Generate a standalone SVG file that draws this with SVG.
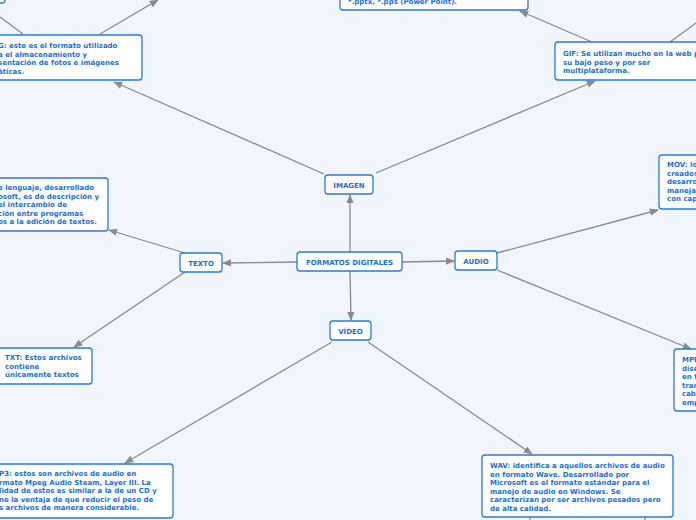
<svg xmlns="http://www.w3.org/2000/svg" width="696" height="520" viewBox="0 0 696 520">
<style>
.n rect{fill:#fff;stroke:#2a7ad8;stroke-width:1.3}
text{font-family:"DejaVu Sans",sans-serif;font-weight:bold;font-size:7px;fill:#1a6fd3}
.c line{stroke:#8a8a8a;stroke-width:1.3}
</style>
<defs><marker id="a" viewBox="0 0 10 10" refX="9" refY="5" markerWidth="7" markerHeight="7" orient="auto"><path d="M0,1L10,5L0,9z" fill="#8a8a8a"/></marker></defs>
<rect width="696" height="520" fill="#f1f5fd"/>
<g class="c">
<line x1="350" y1="252" x2="350" y2="195" marker-end="url(#a)"/>
<line x1="297" y1="262" x2="223" y2="263" marker-end="url(#a)"/>
<line x1="402" y1="262" x2="454" y2="261" marker-end="url(#a)"/>
<line x1="350" y1="271" x2="351" y2="320" marker-end="url(#a)"/>
<line x1="324" y1="174" x2="114" y2="82" marker-end="url(#a)"/>
<line x1="376" y1="173" x2="595" y2="81" marker-end="url(#a)"/>
<line x1="23" y1="34" x2="0" y2="17"/>
<line x1="100" y1="34" x2="158" y2="0" marker-end="url(#a)"/>
<line x1="592" y1="42" x2="520" y2="11" marker-end="url(#a)"/>
<line x1="670" y1="42" x2="700" y2="20"/>
<line x1="185" y1="253" x2="109" y2="230" marker-end="url(#a)"/>
<line x1="185" y1="272" x2="74" y2="347" marker-end="url(#a)"/>
<line x1="497" y1="253" x2="658" y2="210" marker-end="url(#a)"/>
<line x1="497" y1="270" x2="691" y2="349" marker-end="url(#a)"/>
<line x1="332" y1="342" x2="125" y2="463" marker-end="url(#a)"/>
<line x1="368" y1="342" x2="532" y2="454" marker-end="url(#a)"/>
<line x1="530" y1="517" x2="530" y2="520"/>
<line x1="645" y1="517" x2="645" y2="520"/>
</g>
<g id="central" class="n"><rect x="297" y="252" width="105" height="19" rx="3"/><text x="349.5" y="264.5" text-anchor="middle">FORMATOS DIGITALES</text></g>
<g id="imagen" class="n"><rect x="325" y="175" width="48" height="19" rx="3"/><text x="349" y="187.5" text-anchor="middle">IMAGEN</text></g>
<g id="texto" class="n"><rect x="180" y="253" width="42" height="19" rx="3"/><text x="201" y="265.5" text-anchor="middle">TEXTO</text></g>
<g id="audio" class="n"><rect x="455" y="251" width="42" height="19" rx="3"/><text x="476" y="263.5" text-anchor="middle">AUDIO</text></g>
<g id="video" class="n"><rect x="330" y="321" width="41" height="19" rx="3"/><text x="350.5" y="333.5" text-anchor="middle">VÍDEO</text></g>
<g id="topleft" class="n"><rect x="-20" y="-20" width="25" height="23" rx="3"/></g>
<g id="ppt" class="n"><rect x="340" y="-30" width="188" height="40" rx="3"/><text x="348" y="4">*.pptx, *.pps (Power Point).</text></g>
<g id="jpeg" class="n"><rect x="-20" y="35" width="162" height="45" rx="3"/><text x="-2" y="48">G: este es el formato utilizado</text><text x="-2" y="56.5">a el almacenamiento y</text><text x="-2" y="65">sentación de fotos e imágenes</text><text x="-2" y="73.5">áticas.</text></g>
<g id="gif" class="n"><rect x="555" y="42" width="160" height="38" rx="3"/><text x="563" y="56">GIF: Se utilizan mucho en la web por</text><text x="563" y="64.5">su bajo peso y por ser</text><text x="563" y="73">multiplataforma.</text></g>
<g id="mov" class="n"><rect x="659" y="155" width="60" height="54" rx="3"/><text x="667" y="167">MOV: los</text><text x="667" y="175.5">creados</text><text x="667" y="184">desarrollados</text><text x="667" y="192.5">manejar</text><text x="667" y="201">con capacidad</text></g>
<g id="rtf" class="n"><rect x="-20" y="178" width="128" height="53" rx="3"/><text x="-2" y="190">e lenguaje, desarrollado</text><text x="-2" y="198.5">osoft, es de descripción y</text><text x="-2" y="207">el intercambio de</text><text x="-2" y="215.5">ción entre programas</text><text x="-2" y="224">os a la edición de textos.</text></g>
<g id="txt" class="n"><rect x="-10" y="348" width="102" height="36" rx="3"/><text x="5" y="360">TXT: Estos archivos</text><text x="5" y="368.5">contiene</text><text x="5" y="377">únicamente textos</text></g>
<g id="mpeg" class="n"><rect x="674" y="349" width="50" height="62" rx="3"/><text x="682" y="362">MPEG</text><text x="682" y="370.5">diseñado</text><text x="682" y="379">en forma</text><text x="682" y="387.5">transmitir</text><text x="682" y="396">cabe</text><text x="682" y="404.5">empresa</text></g>
<g id="mp3" class="n"><rect x="-20" y="464" width="193" height="54" rx="3"/><text x="-1" y="476">P3: estos son archivos de audio en</text><text x="-1" y="484.5">rmato Mpeg Audio Steam, Layer III. La</text><text x="-1" y="493">lidad de estos es similar a la de un CD y</text><text x="-1" y="501.5">ne la ventaja de que reducir el peso de</text><text x="-1" y="510">s archivos de manera considerable.</text></g>
<g id="wav" class="n"><rect x="482" y="455" width="191" height="62" rx="3"/><text x="490" y="468">WAV: identifica a aquellos archivos de audio</text><text x="490" y="476.5">en formato Wave. Desarrollado por</text><text x="490" y="485">Microsoft es el formato estándar para el</text><text x="490" y="493.5">manejo de audio en Windows. Se</text><text x="490" y="502">caracterizan por ser archivos pesados pero</text><text x="490" y="510.5">de alta calidad.</text></g>
</svg>
